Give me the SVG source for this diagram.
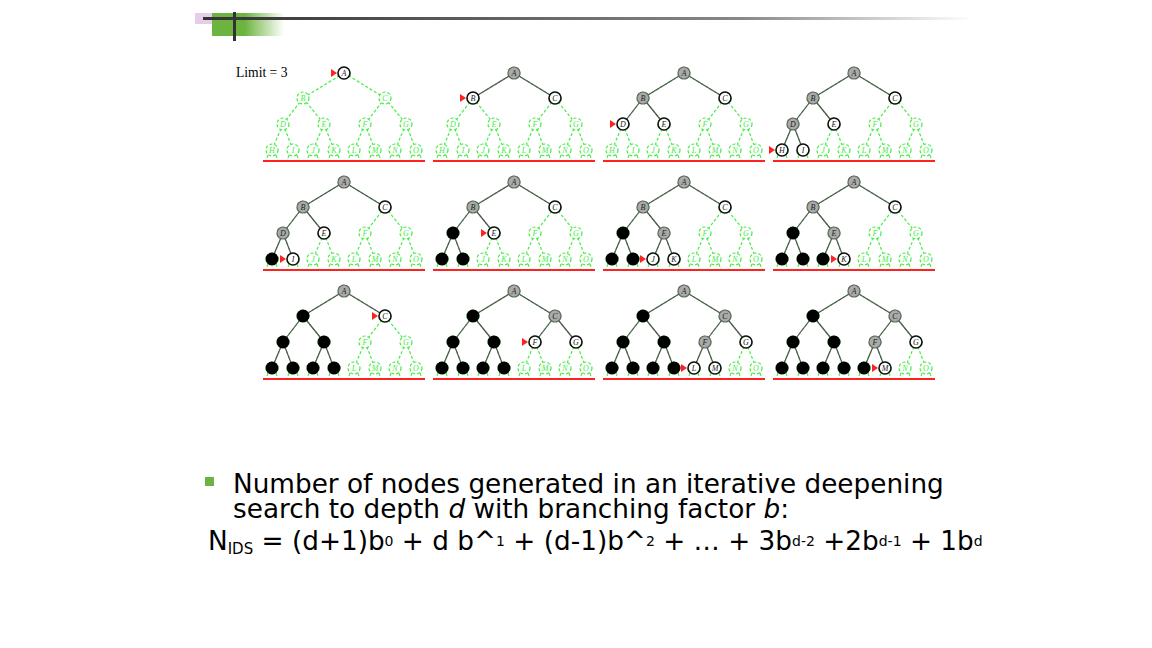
<svg xmlns="http://www.w3.org/2000/svg" xmlns:xlink="http://www.w3.org/1999/xlink" width="1152" height="648" viewBox="0 0 1152 648">
<style>
.ge{stroke:#44ee44;stroke-width:1.2;stroke-dasharray:3,2;fill:none}
.gc{stroke:#44ee44;stroke-width:1.2;stroke-dasharray:3,2;fill:#fff}
.gt{fill:#44ee44;font:italic 8px "Liberation Serif",serif;text-anchor:middle}
.e{stroke:#555;stroke-width:1.2}
.w{fill:#fff;stroke:#111;stroke-width:1.6}
.gy{fill:#aaa;stroke:#666;stroke-width:1.2}
.bk{fill:#000}
.t{fill:#222;font:italic 8px "Liberation Serif",serif;text-anchor:middle}
.rl{stroke:#f22;stroke-width:2.2}
.bt{font-family:"DejaVu Sans",sans-serif;font-size:26.3px;fill:#000}
</style>
<defs>
<linearGradient id="gg" x1="0" x2="1"><stop offset="0.45" stop-color="#6db33f"/><stop offset="1" stop-color="#6db33f" stop-opacity="0"/></linearGradient>
<linearGradient id="lg" x1="0" x2="1"><stop offset="0" stop-color="#333"/><stop offset="0.7" stop-color="#888"/><stop offset="1" stop-color="#888" stop-opacity="0"/></linearGradient>
<polygon id="mk" points="-13,-4 -13,4 -7,0" fill="#f22"/>
<g id="base">
<path class="ge" d="M344,73L303,98M344,73L385,98M303,98L283,124M303,98L324,124M385,98L365,124M385,98L406,124M283,124L272,150M283,124L293,150M324,124L313,150M324,124L334,150M365,124L354,150M365,124L375,150M406,124L395,150M406,124L416,150M268,155L266,161M276,155L278,161M289,155L287,161M297,155L299,161M309,155L307,161M317,155L319,161M330,155L328,161M338,155L340,161M350,155L348,161M358,155L360,161M371,155L369,161M379,155L381,161M391,155L389,161M399,155L401,161M412,155L410,161M420,155L422,161"/>
<g><circle class="gc" cx="344" cy="73" r="6"/><text class="gt" x="344" y="76">A</text></g>
<g><circle class="gc" cx="303" cy="98" r="6"/><text class="gt" x="303" y="101">B</text></g>
<g><circle class="gc" cx="385" cy="98" r="6"/><text class="gt" x="385" y="101">C</text></g>
<g><circle class="gc" cx="283" cy="124" r="6"/><text class="gt" x="283" y="127">D</text></g>
<g><circle class="gc" cx="324" cy="124" r="6"/><text class="gt" x="324" y="127">E</text></g>
<g><circle class="gc" cx="365" cy="124" r="6"/><text class="gt" x="365" y="127">F</text></g>
<g><circle class="gc" cx="406" cy="124" r="6"/><text class="gt" x="406" y="127">G</text></g>
<g><circle class="gc" cx="272" cy="150" r="6"/><text class="gt" x="272" y="153">H</text></g>
<g><circle class="gc" cx="293" cy="150" r="6"/><text class="gt" x="293" y="153">I</text></g>
<g><circle class="gc" cx="313" cy="150" r="6"/><text class="gt" x="313" y="153">J</text></g>
<g><circle class="gc" cx="334" cy="150" r="6"/><text class="gt" x="334" y="153">K</text></g>
<g><circle class="gc" cx="354" cy="150" r="6"/><text class="gt" x="354" y="153">L</text></g>
<g><circle class="gc" cx="375" cy="150" r="6"/><text class="gt" x="375" y="153">M</text></g>
<g><circle class="gc" cx="395" cy="150" r="6"/><text class="gt" x="395" y="153">N</text></g>
<g><circle class="gc" cx="416" cy="150" r="6"/><text class="gt" x="416" y="153">O</text></g>
<line class="rl" x1="263" y1="161" x2="425" y2="161"/>
</g>
</defs>
<g id="header">
<rect x="195" y="13" width="32" height="11" fill="#e6cce8"/>
<rect x="212" y="13" width="72" height="23" fill="url(#gg)"/>
<rect x="203" y="17" width="770" height="3" fill="url(#lg)"/>
<rect x="233" y="12" width="3" height="29" fill="#333"/>
</g>
<text x="236" y="77" font-family="Liberation Serif,serif" font-size="13.6">Limit = 3</text>

<g id="p1"><use xlink:href="#base"/>
<g id="p1A"><circle class="w" cx="344" cy="73" r="6"/><text class="t" x="344" y="76">A</text></g>
<use xlink:href="#mk" x="344" y="73"/></g>

<g id="p2" transform="translate(170,0)"><use xlink:href="#base"/>
<g id="connectors-p2"><path class="e" d="M344,73L303,98M344,73L385,98"/></g>
<g id="p2A"><circle class="gy" cx="344" cy="73" r="6"/><text class="t" x="344" y="76">A</text></g>
<g id="p2B"><circle class="w" cx="303" cy="98" r="6"/><text class="t" x="303" y="101">B</text></g>
<g id="p2C"><circle class="w" cx="385" cy="98" r="6"/><text class="t" x="385" y="101">C</text></g>
<use xlink:href="#mk" x="303" y="98"/></g>

<g id="p3" transform="translate(340,0)"><use xlink:href="#base"/>
<g id="connectors-p3"><path class="e" d="M344,73L303,98M344,73L385,98M303,98L283,124M303,98L324,124"/></g>
<g id="p3A"><circle class="gy" cx="344" cy="73" r="6"/><text class="t" x="344" y="76">A</text></g>
<g id="p3B"><circle class="gy" cx="303" cy="98" r="6"/><text class="t" x="303" y="101">B</text></g>
<g id="p3C"><circle class="w" cx="385" cy="98" r="6"/><text class="t" x="385" y="101">C</text></g>
<g id="p3D"><circle class="w" cx="283" cy="124" r="6"/><text class="t" x="283" y="127">D</text></g>
<g id="p3E"><circle class="w" cx="324" cy="124" r="6"/><text class="t" x="324" y="127">E</text></g>
<use xlink:href="#mk" x="283" y="124"/></g>

<g id="p4" transform="translate(510,0)"><use xlink:href="#base"/>
<g id="connectors-p4"><path class="e" d="M344,73L303,98M344,73L385,98M303,98L283,124M303,98L324,124M283,124L272,150M283,124L293,150"/></g>
<g id="p4A"><circle class="gy" cx="344" cy="73" r="6"/><text class="t" x="344" y="76">A</text></g>
<g id="p4B"><circle class="gy" cx="303" cy="98" r="6"/><text class="t" x="303" y="101">B</text></g>
<g id="p4C"><circle class="w" cx="385" cy="98" r="6"/><text class="t" x="385" y="101">C</text></g>
<g id="p4D"><circle class="gy" cx="283" cy="124" r="6"/><text class="t" x="283" y="127">D</text></g>
<g id="p4E"><circle class="w" cx="324" cy="124" r="6"/><text class="t" x="324" y="127">E</text></g>
<g id="p4H"><circle class="w" cx="272" cy="150" r="6"/><text class="t" x="272" y="153">H</text></g>
<g id="p4I"><circle class="w" cx="293" cy="150" r="6"/><text class="t" x="293" y="153">I</text></g>
<use xlink:href="#mk" x="272" y="150"/></g>

<g id="p5" transform="translate(0,109)"><use xlink:href="#base"/>
<g id="connectors-p5"><path class="e" d="M344,73L303,98M344,73L385,98M303,98L283,124M303,98L324,124M283,124L272,150M283,124L293,150"/></g>
<g id="p5A"><circle class="gy" cx="344" cy="73" r="6"/><text class="t" x="344" y="76">A</text></g>
<g id="p5B"><circle class="gy" cx="303" cy="98" r="6"/><text class="t" x="303" y="101">B</text></g>
<g id="p5C"><circle class="w" cx="385" cy="98" r="6"/><text class="t" x="385" y="101">C</text></g>
<g id="p5D"><circle class="gy" cx="283" cy="124" r="6"/><text class="t" x="283" y="127">D</text></g>
<g id="p5E"><circle class="w" cx="324" cy="124" r="6"/><text class="t" x="324" y="127">E</text></g>
<g id="p5H"><circle class="bk" cx="272" cy="150" r="6.5"/></g>
<g id="p5I"><circle class="w" cx="293" cy="150" r="6"/><text class="t" x="293" y="153">I</text></g>
<use xlink:href="#mk" x="293" y="150"/></g>

<g id="p6" transform="translate(170,109)"><use xlink:href="#base"/>
<g id="connectors-p6"><path class="e" d="M344,73L303,98M344,73L385,98M303,98L283,124M303,98L324,124M283,124L272,150M283,124L293,150"/></g>
<g id="p6A"><circle class="gy" cx="344" cy="73" r="6"/><text class="t" x="344" y="76">A</text></g>
<g id="p6B"><circle class="gy" cx="303" cy="98" r="6"/><text class="t" x="303" y="101">B</text></g>
<g id="p6C"><circle class="w" cx="385" cy="98" r="6"/><text class="t" x="385" y="101">C</text></g>
<g id="p6D"><circle class="bk" cx="283" cy="124" r="6.5"/></g>
<g id="p6E"><circle class="w" cx="324" cy="124" r="6"/><text class="t" x="324" y="127">E</text></g>
<g id="p6H"><circle class="bk" cx="272" cy="150" r="6.5"/></g>
<g id="p6I"><circle class="bk" cx="293" cy="150" r="6.5"/></g>
<use xlink:href="#mk" x="324" y="124"/></g>

<g id="p7" transform="translate(340,109)"><use xlink:href="#base"/>
<g id="connectors-p7"><path class="e" d="M344,73L303,98M344,73L385,98M303,98L283,124M303,98L324,124M283,124L272,150M283,124L293,150M324,124L313,150M324,124L334,150"/></g>
<g id="p7A"><circle class="gy" cx="344" cy="73" r="6"/><text class="t" x="344" y="76">A</text></g>
<g id="p7B"><circle class="gy" cx="303" cy="98" r="6"/><text class="t" x="303" y="101">B</text></g>
<g id="p7C"><circle class="w" cx="385" cy="98" r="6"/><text class="t" x="385" y="101">C</text></g>
<g id="p7D"><circle class="bk" cx="283" cy="124" r="6.5"/></g>
<g id="p7E"><circle class="gy" cx="324" cy="124" r="6"/><text class="t" x="324" y="127">E</text></g>
<g id="p7H"><circle class="bk" cx="272" cy="150" r="6.5"/></g>
<g id="p7I"><circle class="bk" cx="293" cy="150" r="6.5"/></g>
<g id="p7J"><circle class="w" cx="313" cy="150" r="6"/><text class="t" x="313" y="153">J</text></g>
<g id="p7K"><circle class="w" cx="334" cy="150" r="6"/><text class="t" x="334" y="153">K</text></g>
<use xlink:href="#mk" x="313" y="150"/></g>

<g id="p8" transform="translate(510,109)"><use xlink:href="#base"/>
<g id="connectors-p8"><path class="e" d="M344,73L303,98M344,73L385,98M303,98L283,124M303,98L324,124M283,124L272,150M283,124L293,150M324,124L313,150M324,124L334,150"/></g>
<g id="p8A"><circle class="gy" cx="344" cy="73" r="6"/><text class="t" x="344" y="76">A</text></g>
<g id="p8B"><circle class="gy" cx="303" cy="98" r="6"/><text class="t" x="303" y="101">B</text></g>
<g id="p8C"><circle class="w" cx="385" cy="98" r="6"/><text class="t" x="385" y="101">C</text></g>
<g id="p8D"><circle class="bk" cx="283" cy="124" r="6.5"/></g>
<g id="p8E"><circle class="gy" cx="324" cy="124" r="6"/><text class="t" x="324" y="127">E</text></g>
<g id="p8H"><circle class="bk" cx="272" cy="150" r="6.5"/></g>
<g id="p8I"><circle class="bk" cx="293" cy="150" r="6.5"/></g>
<g id="p8J"><circle class="bk" cx="313" cy="150" r="6.5"/></g>
<g id="p8K"><circle class="w" cx="334" cy="150" r="6"/><text class="t" x="334" y="153">K</text></g>
<use xlink:href="#mk" x="334" y="150"/></g>

<g id="p9" transform="translate(0,218)"><use xlink:href="#base"/>
<g id="connectors-p9"><path class="e" d="M344,73L303,98M344,73L385,98M303,98L283,124M303,98L324,124M283,124L272,150M283,124L293,150M324,124L313,150M324,124L334,150"/></g>
<g id="p9A"><circle class="gy" cx="344" cy="73" r="6"/><text class="t" x="344" y="76">A</text></g>
<g id="p9B"><circle class="bk" cx="303" cy="98" r="6.5"/></g>
<g id="p9C"><circle class="w" cx="385" cy="98" r="6"/><text class="t" x="385" y="101">C</text></g>
<g id="p9D"><circle class="bk" cx="283" cy="124" r="6.5"/></g>
<g id="p9E"><circle class="bk" cx="324" cy="124" r="6.5"/></g>
<g id="p9H"><circle class="bk" cx="272" cy="150" r="6.5"/></g>
<g id="p9I"><circle class="bk" cx="293" cy="150" r="6.5"/></g>
<g id="p9J"><circle class="bk" cx="313" cy="150" r="6.5"/></g>
<g id="p9K"><circle class="bk" cx="334" cy="150" r="6.5"/></g>
<use xlink:href="#mk" x="385" y="98"/></g>

<g id="p10" transform="translate(170,218)"><use xlink:href="#base"/>
<g id="connectors-p10"><path class="e" d="M344,73L303,98M344,73L385,98M303,98L283,124M303,98L324,124M283,124L272,150M283,124L293,150M324,124L313,150M324,124L334,150M385,98L365,124M385,98L406,124"/></g>
<g id="p10A"><circle class="gy" cx="344" cy="73" r="6"/><text class="t" x="344" y="76">A</text></g>
<g id="p10B"><circle class="bk" cx="303" cy="98" r="6.5"/></g>
<g id="p10C"><circle class="gy" cx="385" cy="98" r="6"/><text class="t" x="385" y="101">C</text></g>
<g id="p10D"><circle class="bk" cx="283" cy="124" r="6.5"/></g>
<g id="p10E"><circle class="bk" cx="324" cy="124" r="6.5"/></g>
<g id="p10F"><circle class="w" cx="365" cy="124" r="6"/><text class="t" x="365" y="127">F</text></g>
<g id="p10G"><circle class="w" cx="406" cy="124" r="6"/><text class="t" x="406" y="127">G</text></g>
<g id="p10H"><circle class="bk" cx="272" cy="150" r="6.5"/></g>
<g id="p10I"><circle class="bk" cx="293" cy="150" r="6.5"/></g>
<g id="p10J"><circle class="bk" cx="313" cy="150" r="6.5"/></g>
<g id="p10K"><circle class="bk" cx="334" cy="150" r="6.5"/></g>
<use xlink:href="#mk" x="365" y="124"/></g>

<g id="p11" transform="translate(340,218)"><use xlink:href="#base"/>
<g id="connectors-p11"><path class="e" d="M344,73L303,98M344,73L385,98M303,98L283,124M303,98L324,124M283,124L272,150M283,124L293,150M324,124L313,150M324,124L334,150M385,98L365,124M385,98L406,124M365,124L354,150M365,124L375,150"/></g>
<g id="p11A"><circle class="gy" cx="344" cy="73" r="6"/><text class="t" x="344" y="76">A</text></g>
<g id="p11B"><circle class="bk" cx="303" cy="98" r="6.5"/></g>
<g id="p11C"><circle class="gy" cx="385" cy="98" r="6"/><text class="t" x="385" y="101">C</text></g>
<g id="p11D"><circle class="bk" cx="283" cy="124" r="6.5"/></g>
<g id="p11E"><circle class="bk" cx="324" cy="124" r="6.5"/></g>
<g id="p11F"><circle class="gy" cx="365" cy="124" r="6"/><text class="t" x="365" y="127">F</text></g>
<g id="p11G"><circle class="w" cx="406" cy="124" r="6"/><text class="t" x="406" y="127">G</text></g>
<g id="p11H"><circle class="bk" cx="272" cy="150" r="6.5"/></g>
<g id="p11I"><circle class="bk" cx="293" cy="150" r="6.5"/></g>
<g id="p11J"><circle class="bk" cx="313" cy="150" r="6.5"/></g>
<g id="p11K"><circle class="bk" cx="334" cy="150" r="6.5"/></g>
<g id="p11L"><circle class="w" cx="354" cy="150" r="6"/><text class="t" x="354" y="153">L</text></g>
<g id="p11M"><circle class="w" cx="375" cy="150" r="6"/><text class="t" x="375" y="153">M</text></g>
<use xlink:href="#mk" x="354" y="150"/></g>

<g id="p12" transform="translate(510,218)"><use xlink:href="#base"/>
<g id="connectors-p12"><path class="e" d="M344,73L303,98M344,73L385,98M303,98L283,124M303,98L324,124M283,124L272,150M283,124L293,150M324,124L313,150M324,124L334,150M385,98L365,124M385,98L406,124M365,124L354,150M365,124L375,150"/></g>
<g id="p12A"><circle class="gy" cx="344" cy="73" r="6"/><text class="t" x="344" y="76">A</text></g>
<g id="p12B"><circle class="bk" cx="303" cy="98" r="6.5"/></g>
<g id="p12C"><circle class="gy" cx="385" cy="98" r="6"/><text class="t" x="385" y="101">C</text></g>
<g id="p12D"><circle class="bk" cx="283" cy="124" r="6.5"/></g>
<g id="p12E"><circle class="bk" cx="324" cy="124" r="6.5"/></g>
<g id="p12F"><circle class="gy" cx="365" cy="124" r="6"/><text class="t" x="365" y="127">F</text></g>
<g id="p12G"><circle class="w" cx="406" cy="124" r="6"/><text class="t" x="406" y="127">G</text></g>
<g id="p12H"><circle class="bk" cx="272" cy="150" r="6.5"/></g>
<g id="p12I"><circle class="bk" cx="293" cy="150" r="6.5"/></g>
<g id="p12J"><circle class="bk" cx="313" cy="150" r="6.5"/></g>
<g id="p12K"><circle class="bk" cx="334" cy="150" r="6.5"/></g>
<g id="p12L"><circle class="bk" cx="354" cy="150" r="6.5"/></g>
<g id="p12M"><circle class="w" cx="375" cy="150" r="6"/><text class="t" x="375" y="153">M</text></g>
<use xlink:href="#mk" x="375" y="150"/></g>

<rect x="205" y="477" width="9" height="9" fill="#6db33f"/>
<text class="bt" x="233" y="493">Number of nodes generated in an iterative deepening</text>
<text class="bt" x="233" y="518">search to depth <tspan font-style="italic">d</tspan> with branching factor <tspan font-style="italic">b</tspan>:</text>
<text class="bt" x="208" y="550">N<tspan font-size="15" dy="4">IDS</tspan><tspan dy="-4"> = (d+1)b</tspan><tspan font-size="14" dy="-4">0</tspan><tspan dy="4"> + d b^</tspan><tspan font-size="14" dy="-4">1</tspan><tspan dy="4"> + (d-1)b^</tspan><tspan font-size="14" dy="-4">2</tspan><tspan dy="4"> + … + 3b</tspan><tspan font-size="14" dy="-4">d-2</tspan><tspan dy="4"> +2b</tspan><tspan font-size="14" dy="-4">d-1</tspan><tspan dy="4"> + 1b</tspan><tspan font-size="14" dy="-4">d</tspan></text>
</svg>
